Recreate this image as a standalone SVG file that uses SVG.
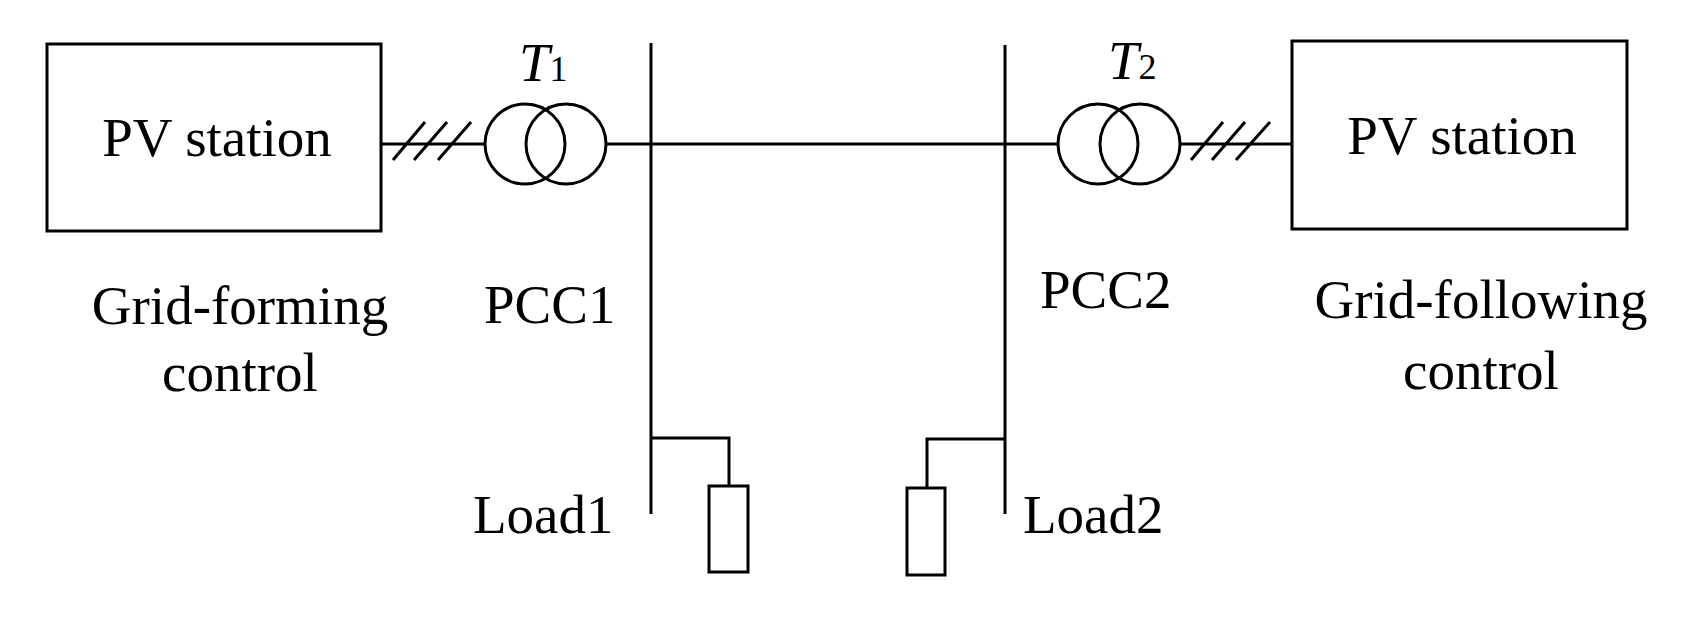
<svg xmlns="http://www.w3.org/2000/svg" width="1688" height="620" viewBox="0 0 1688 620">
<style>
.s{fill:none;stroke:#000;stroke-width:3}
text{font-family:"Liberation Serif","Times New Roman",serif;font-size:55px;fill:#000}
.c{text-anchor:middle}
</style>
<rect width="1688" height="620" fill="#fff"/>
<g id="connectors" class="s">
<line x1="381" y1="144" x2="484" y2="144"/>
<line x1="393" y1="160" x2="425" y2="122"/>
<line x1="414" y1="160" x2="447" y2="122"/>
<line x1="438" y1="160" x2="471" y2="122"/>
<line x1="606" y1="144" x2="1058" y2="144"/>
<line x1="1180" y1="144" x2="1292" y2="144"/>
<line x1="1191" y1="160" x2="1223" y2="122"/>
<line x1="1212" y1="160" x2="1245" y2="122"/>
<line x1="1236" y1="160" x2="1270" y2="122"/>
<polyline points="651,438 729,438 729,486"/>
<polyline points="1005,439 927,439 927,488"/>
</g>
<g id="pv1"><rect class="s" x="47" y="44" width="334" height="187"/><text class="c" x="217" y="156">PV station</text></g>
<g id="label1"><text class="c" x="240" y="324">Grid-forming</text><text class="c" x="240" y="391">control</text></g>
<g id="t1"><circle class="s" cx="525" cy="144" r="40"/><circle class="s" cx="566" cy="144" r="40"/><text x="519" y="81" font-style="italic" font-size="50">T<tspan font-style="normal" font-size="36">1</tspan></text></g>
<g id="pcc1"><line class="s" x1="651" y1="43" x2="651" y2="514"/><text x="484" y="323">PCC1</text></g>
<g id="load1"><rect class="s" x="709" y="486" width="39" height="86"/><text x="473" y="533">Load1</text></g>
<g id="t2"><circle class="s" cx="1098" cy="144" r="40"/><circle class="s" cx="1140" cy="144" r="40"/><text x="1108" y="79" font-style="italic" font-size="50">T<tspan font-style="normal" font-size="36">2</tspan></text></g>
<g id="pcc2"><line class="s" x1="1005" y1="45" x2="1005" y2="514"/><text x="1040" y="308">PCC2</text></g>
<g id="load2"><rect class="s" x="907" y="488" width="38" height="87"/><text x="1023" y="533">Load2</text></g>
<g id="pv2"><rect class="s" x="1292" y="41" width="335" height="188"/><text class="c" x="1462" y="154">PV station</text></g>
<g id="label2"><text class="c" x="1481" y="318">Grid-following</text><text class="c" x="1481" y="389">control</text></g>
</svg>
